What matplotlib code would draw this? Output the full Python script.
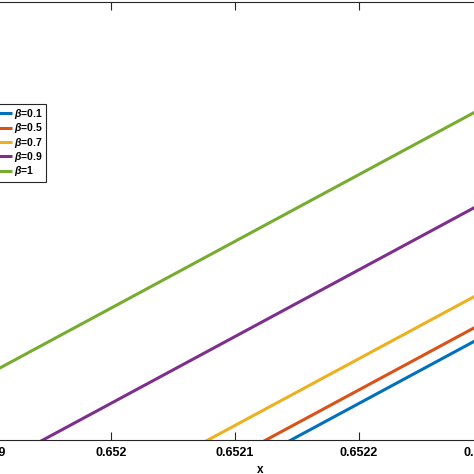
import numpy as np
import matplotlib.pyplot as plt

plt.rcParams['font.family'] = 'Liberation Sans'
plt.rcParams['font.weight'] = 'bold'
plt.rcParams['mathtext.fontset'] = 'custom'
plt.rcParams['mathtext.it'] = 'Liberation Sans:italic:bold'
plt.rcParams['mathtext.rm'] = 'Liberation Sans:bold'

# --- data (two end points per line) ---
x_pts = [0.6518, 0.6524]
u_b01 = [0.43109484, 0.43127762]
u_b05 = [0.43110101, 0.43128379]
u_b07 = [0.43111525, 0.43129803]
u_b09 = [0.43115580, 0.43133858]
u_b1 = [0.43119922, 0.43138200]

labels = [r'$\beta$=0.1', r'$\beta$=0.5', r'$\beta$=0.7', r'$\beta$=0.9', r'$\beta$=1']
colors = ['#0072BD', '#D95319', '#EDB120', '#7E2F8E', '#77AC30']
x_ticks = [0.6519, 0.652, 0.6521, 0.6522, 0.6523]
x_tick_labels = ['0.6519', '0.652', '0.6521', '0.6522', '0.6523']

fig = plt.figure(figsize=(4.74, 4.74), dpi=100)
ax = fig.add_axes([-0.1582, 34 / 474, 620 / 474, 438.5 / 474])

series = [u_b01, u_b05, u_b07, u_b09, u_b1]
for u, lab, c in zip(series, labels, colors):
    ax.plot(x_pts, u, color=c, linewidth=2.2, label=lab, solid_capstyle='butt')

ax.set_xlim(0.65185, 0.65235)
ax.set_ylim(0.4312, 0.4314)
ax.set_xticks(x_ticks, x_tick_labels)
ax.tick_params(direction='in', length=6, width=0.8, top=True, right=True,
               labelsize=9, pad=5, colors='#262626', labelcolor='black')
for s in ax.spines.values():
    s.set_linewidth(0.8)
    s.set_color('#262626')
ax.set_xlabel('x', fontsize=8.5, fontweight='bold')
ax.xaxis.set_label_coords(0.54, -0.054)

leg = ax.legend(loc='upper right', bbox_to_anchor=(46 / 474, 1 - 104 / 474),
                bbox_transform=fig.transFigure, fontsize=7.5, handlelength=3.0,
                labelspacing=0.03, borderpad=0.3, handletextpad=0.15,
                borderaxespad=0, fancybox=False, framealpha=1, edgecolor='#262626')
leg.get_frame().set_linewidth(0.8)

fig.savefig('out.png', dpi=100)
